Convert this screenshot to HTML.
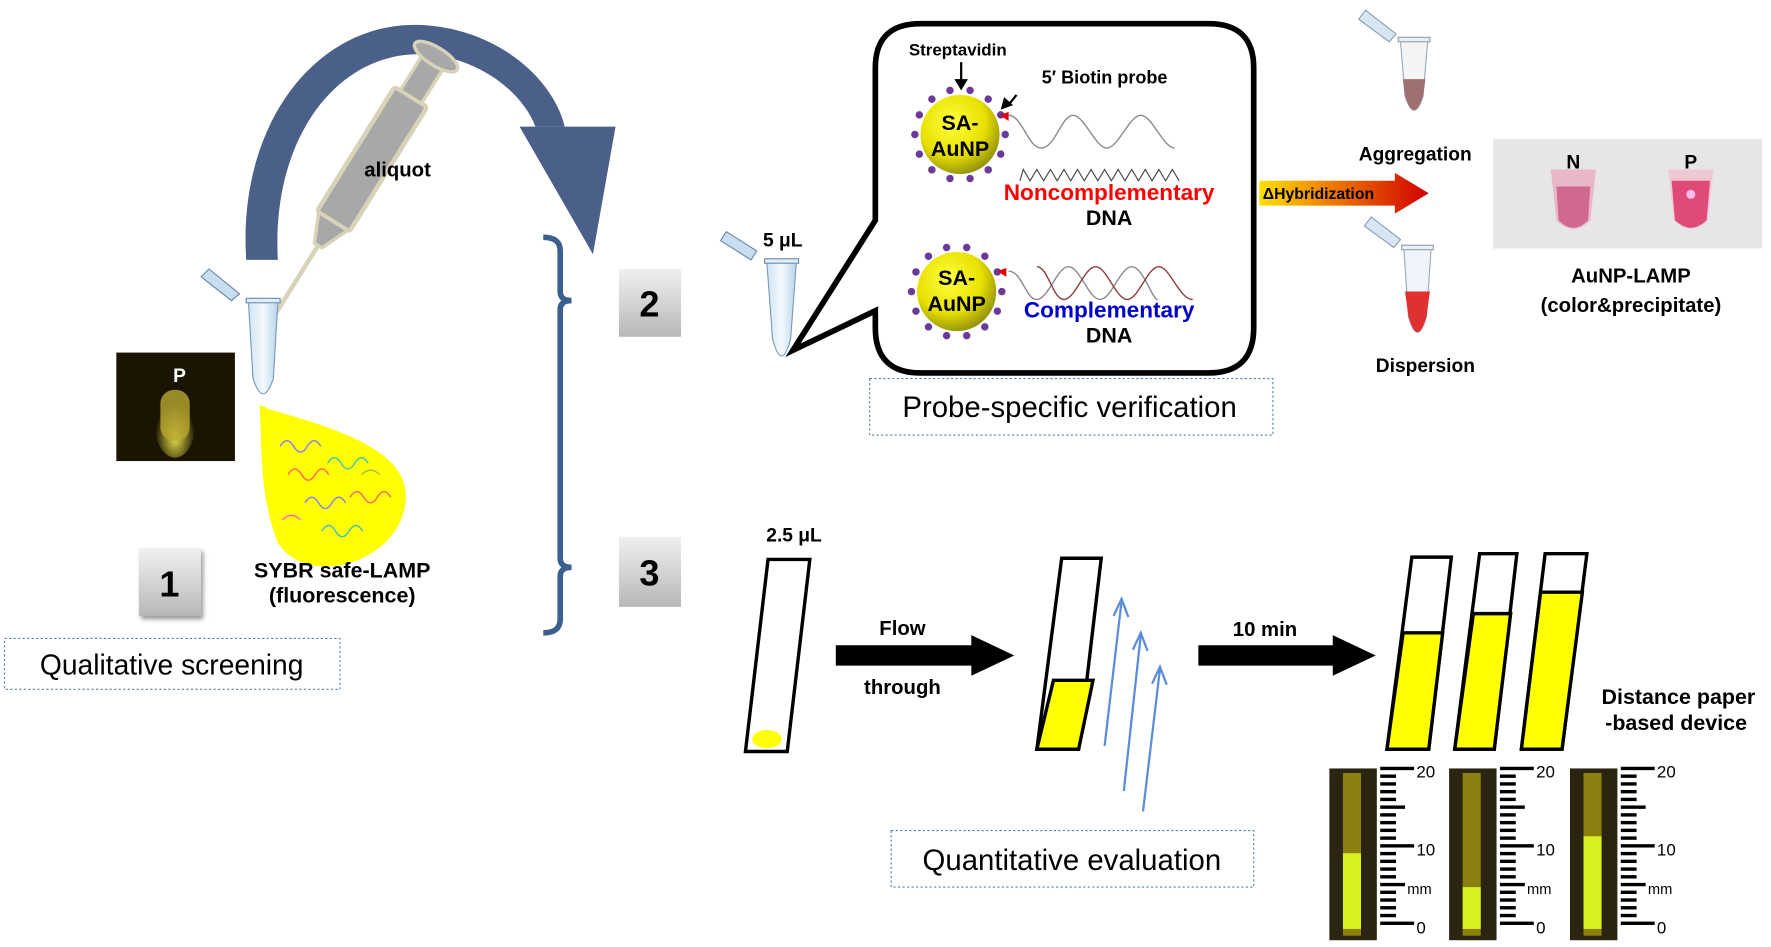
<!DOCTYPE html>
<html><head><meta charset="utf-8"><style>
html,body{margin:0;padding:0;background:#fff;width:1771px;height:947px;overflow:hidden}
svg{display:block}
text{font-family:"Liberation Sans",sans-serif}
.b{font-weight:bold}
</style></head><body>
<svg id="s" width="1771" height="947" viewBox="0 0 1568 838" preserveAspectRatio="none" xmlns="http://www.w3.org/2000/svg">
<defs>
<radialGradient id="np" cx="0.4" cy="0.35" r="0.7"><stop offset="0" stop-color="#ffff40"/><stop offset="0.6" stop-color="#e8e000"/><stop offset="1" stop-color="#8a8a10"/></radialGradient>
<linearGradient id="hy" x1="0" x2="1"><stop offset="0" stop-color="#ffe000"/><stop offset="0.4" stop-color="#f08000"/><stop offset="1" stop-color="#d00000"/></linearGradient>
<linearGradient id="tube" x1="0" x2="1"><stop offset="0" stop-color="#cfe4f4"/><stop offset="0.5" stop-color="#f4fafe"/><stop offset="1" stop-color="#b8d4ea"/></linearGradient>
<radialGradient id="glow" cx="0.5" cy="0.7" r="0.5"><stop offset="0" stop-color="#e8e050"/><stop offset="1" stop-color="#1a1400"/></radialGradient>
<linearGradient id="gb" x1="0" x2="0" y1="0" y2="1"><stop offset="0" stop-color="#f0f0f0"/><stop offset="1" stop-color="#b8b8b8"/></linearGradient>
</defs>
<!-- big curved arrow -->
<path d="M218,230 C210,110 280,20 370,22 C440,24 490,70 500,112 L474,112 C462,80 420,48 370,48 C300,48 240,120 246,230 Z" fill="#4b6088"/>
<polygon points="460,112 545,112 525,225" fill="#4b6088"/>
<!-- syringe -->
<g transform="rotate(32 310 170)">
<rect x="294" y="70" width="34" height="130" rx="3" fill="#a8a8a8" stroke="#d8d2b8" stroke-width="4"/>
<rect x="300" y="30" width="22" height="40" fill="#a8a8a8" stroke="#d8d2b8" stroke-width="3"/>
<ellipse cx="311" cy="28" rx="22" ry="8" fill="#a8a8a8" stroke="#d8d2b8" stroke-width="3"/>
<polygon points="296,200 326,200 315,225 307,225" fill="#a8a8a8" stroke="#d8d2b8" stroke-width="3"/>
<line x1="311" y1="225" x2="311" y2="310" stroke="#d8d2b8" stroke-width="4"/>
</g>
<text x="352" y="156" class="b" font-size="18" text-anchor="middle">aliquot</text>
<!-- tube 1 -->
<polygon points="178,245 185,238 212,260 205,266" fill="#c8ddef" stroke="#6a8aa8"/>
<rect x="218" y="264" width="30" height="4" fill="#e0eef8" stroke="#6a8aa8"/>
<path d="M220,268 L246,268 L242,335 Q233,362 224,335 Z" fill="url(#tube)" stroke="#7a9ab8"/>
<!-- yellow cone -->
<path d="M230,358 L238,362 C300,380 370,400 358,450 C348,500 270,520 246,480 C230,440 232,400 230,358 Z" fill="#ffff00"/>
<g stroke-width="1.2" fill="none">
<path d="M248,395 q6,-10 12,0 t12,0 t12,0" stroke="#8080ff"/><path d="M255,420 q6,-10 12,0 t12,0 t12,0" stroke="#ff6060"/>
<path d="M290,410 q6,-10 12,0 t12,0 t12,0" stroke="#40c0c0"/><path d="M270,445 q6,-10 12,0 t12,0 t12,0" stroke="#8080ff"/>
<path d="M310,440 q6,-10 12,0 t12,0 t12,0" stroke="#ff6060"/><path d="M285,470 q6,-10 12,0 t12,0 t12,0" stroke="#40c0c0"/>
<path d="M320,420 q8,-8 16,0" stroke="#a0c040"/><path d="M250,460 q8,-8 16,0" stroke="#ff60c0"/>
</g>
<!-- photo P -->
<rect x="103" y="312" width="105" height="96" fill="#1a1400"/>
<ellipse cx="155" cy="375" rx="18" ry="30" fill="url(#glow)"/>
<rect x="142" y="345" width="26" height="45" rx="12" fill="#b8a830" opacity="0.8"/>
<text x="159" y="338" class="b" font-size="17" fill="#fff" text-anchor="middle">P</text>
<!-- number boxes -->
<rect x="123" y="485" width="55" height="60" fill="url(#gb)" filter="drop-shadow(2px 3px 2px #999)"/>
<text x="150" y="528" class="b" font-size="32" text-anchor="middle">1</text>
<rect x="548" y="238" width="55" height="60" fill="url(#gb)"/>
<text x="575" y="280" class="b" font-size="32" text-anchor="middle">2</text>
<rect x="548" y="475" width="55" height="62" fill="url(#gb)"/>
<text x="575" y="518" class="b" font-size="32" text-anchor="middle">3</text>
<text x="303" y="511" class="b" font-size="19" text-anchor="middle">SYBR safe-LAMP</text>
<text x="303" y="533" class="b" font-size="19" text-anchor="middle">(fluorescence)</text>
<rect x="4" y="565" width="297" height="45" fill="none" stroke="#6080b0" stroke-dasharray="2,2"/>
<text x="152" y="597" font-size="25" text-anchor="middle">Qualitative screening</text>
<!-- bracket -->
<path d="M481,210 Q496,210 496,222 L496,258 Q496,266 506,266 Q496,266 496,274 L496,494 Q496,502 506,502 Q496,502 496,510 L496,548 Q496,560 481,560" fill="none" stroke="#3b5f8f" stroke-width="5"/>
<!-- tube 2 -->
<polygon points="638,213 643,205 670,222 665,230" fill="#c8ddef" stroke="#6a8aa8"/>
<rect x="677" y="229" width="30" height="4" fill="#e0eef8" stroke="#6a8aa8"/>
<path d="M679,233 L705,233 L700,300 Q692,330 684,300 Z" fill="url(#tube)" stroke="#7a9ab8"/>
<text x="693" y="218" class="b" font-size="17" text-anchor="middle">5 μL</text>
<!-- callout -->
<path d="M815,21 L1070,21 Q1110,21 1110,60 L1110,290 Q1110,330 1070,330 L815,330 Q775,330 775,290 L775,275 L702,310 L775,195 L775,60 Q775,21 815,21 Z" fill="#fff" stroke="#000" stroke-width="5"/>
<text x="848" y="49" class="b" font-size="15" text-anchor="middle">Streptavidin</text>
<line x1="851" y1="55" x2="851" y2="72" stroke="#000" stroke-width="2"/><polygon points="845,70 857,70 851,80" fill="#000"/>
<text x="978" y="74" class="b" font-size="16" text-anchor="middle">5′ Biotin probe</text>
<line x1="900" y1="84" x2="892" y2="94" stroke="#000" stroke-width="2"/><polygon points="886,97 889,86 897,93" fill="#000"/>
<circle cx="850" cy="119" r="35" fill="url(#np)"/>
<circle cx="847" cy="258" r="35" fill="url(#np)"/>
<text x="850" y="115" class="b" font-size="19" text-anchor="middle">SA-</text>
<text x="850" y="138" class="b" font-size="19" text-anchor="middle">AuNP</text>
<text x="847" y="252" class="b" font-size="19" text-anchor="middle">SA-</text>
<text x="847" y="275" class="b" font-size="19" text-anchor="middle">AuNP</text>
<g id="dots" fill="#6a3a9a"></g>
<polygon points="885,102 893,99 893,107" fill="#e00000"/>
<polygon points="883,240 891,237 891,245" fill="#e00000"/>
<path d="M893,102 C905,102 910,131 922,131 S940,102 950,102 S970,131 980,131 S1000,102 1010,102 S1030,131 1040,131" fill="none" stroke="#888" stroke-width="1.2"/>
<path id="zz" d="" fill="none" stroke="#444" stroke-width="1"/>
<path d="M893,240 C905,240 908,265 918,265 S936,236 946,236 S964,265 974,265 S992,236 1002,236 S1020,265 1025,265" fill="none" stroke="#888" stroke-width="1.2"/>
<path d="M918,236 C928,236 932,265 942,265 S960,236 970,236 S988,265 998,265 S1016,236 1026,236 S1044,265 1056,265" fill="none" stroke="#8a3a3a" stroke-width="1.2"/>
<text x="982" y="177" class="b" font-size="20" fill="#ff0000" text-anchor="middle">Noncomplementary</text>
<text x="982" y="199" class="b" font-size="19" text-anchor="middle">DNA</text>
<text x="982" y="281" class="b" font-size="20" fill="#0000cc" text-anchor="middle">Complementary</text>
<text x="982" y="303" class="b" font-size="19" text-anchor="middle">DNA</text>
<rect x="770" y="335" width="357" height="50" fill="none" stroke="#6080b0" stroke-dasharray="2,2"/>
<text x="947" y="369" font-size="26" text-anchor="middle">Probe-specific verification</text>
<!-- hybridization arrow -->
<polygon points="1115,160 1235,160 1235,153 1265,171 1235,189 1235,182 1115,182" fill="url(#hy)"/>
<text x="1118" y="176" class="b" font-size="14">ΔHybridization</text>
<!-- tubes right -->
<polygon points="1203,17 1209,9 1236,30 1230,37" fill="#d8e6f2" stroke="#8aa0b8"/>
<rect x="1238" y="33" width="28" height="4" fill="#eee" stroke="#8aa0b8"/>
<path d="M1240,37 L1264,37 L1260,85 Q1252,110 1244,85 Z" fill="#f4f4f4" stroke="#9ab"/>
<path d="M1242,70 L1262,70 L1260,85 Q1252,110 1244,85 Z" fill="#a07070"/>
<text x="1253" y="142" class="b" font-size="17" text-anchor="middle">Aggregation</text>
<polygon points="1208,200 1214,192 1240,212 1234,219" fill="#d8e6f2" stroke="#8aa0b8"/>
<rect x="1241" y="217" width="28" height="4" fill="#eee" stroke="#8aa0b8"/>
<path d="M1243,221 L1267,221 L1263,280 Q1255,308 1247,280 Z" fill="#eef4fa" stroke="#9ab"/>
<path d="M1244,258 L1266,258 L1263,280 Q1255,308 1247,280 Z" fill="#e03030"/>
<text x="1262" y="329" class="b" font-size="17" text-anchor="middle">Dispersion</text>
<rect x="1322" y="123" width="238" height="97" fill="#e6e6e8"/>
<path d="M1373,150 L1413,150 L1408,195 Q1393,210 1378,195 Z" fill="#e8b8c8"/>
<path d="M1378,165 L1408,165 L1406,195 Q1393,208 1380,195 Z" fill="#d06890"/>
<path d="M1477,150 L1517,150 L1512,195 Q1497,210 1482,195 Z" fill="#f0c8d4"/>
<path d="M1480,160 L1514,160 L1511,195 Q1497,208 1483,195 Z" fill="#e04a78"/>
<circle cx="1497" cy="172" r="4" fill="#fbe"/>
<text x="1393" y="149" class="b" font-size="17" text-anchor="middle">N</text>
<text x="1497" y="149" class="b" font-size="17" text-anchor="middle">P</text>
<text x="1444" y="250" class="b" font-size="18" text-anchor="middle">AuNP-LAMP</text>
<text x="1444" y="276" class="b" font-size="18" text-anchor="middle">(color&amp;precipitate)</text>
<!-- strips -->
<text x="703" y="479" class="b" font-size="17" text-anchor="middle">2.5 μL</text>
<polygon points="680,495 717,495 697,665 660,665" fill="#fff" stroke="#000" stroke-width="3"/>
<ellipse cx="679" cy="654" rx="13" ry="8" fill="#ffff00"/>
<polygon points="740,571 860,571 860,562 898,580 860,598 860,589 740,589" fill="#000"/>
<text x="799" y="562" class="b" font-size="18" text-anchor="middle">Flow</text>
<text x="799" y="614" class="b" font-size="18" text-anchor="middle">through</text>
<polygon points="940,494 975,494 955,663 918,663" fill="#fff" stroke="#000" stroke-width="3"/>
<polygon points="932.7,602 967.7,602 955,663 918,663" fill="#ffff00" stroke="#000" stroke-width="3"/>
<g stroke="#5b8ed6" stroke-width="2" fill="none">
<line x1="978" y1="660" x2="993" y2="532"/><polyline points="986,545 993,530 999,546"/>
<line x1="995" y1="700" x2="1010" y2="562"/><polyline points="1003,575 1010,560 1016,576"/>
<line x1="1012" y1="718" x2="1027" y2="592"/><polyline points="1020,605 1027,590 1033,606"/>
</g>
<polygon points="1061,571 1180,571 1180,562 1218,580 1180,598 1180,589 1061,589" fill="#000"/>
<text x="1120" y="563" class="b" font-size="18" text-anchor="middle">10  min</text>
<polygon points="1250,493 1285,493 1265,663 1228,663" fill="#fff" stroke="#000" stroke-width="3"/>
<polygon points="1242.3,560 1277.3,560 1265,663 1228,663" fill="#ffff00" stroke="#000" stroke-width="3"/>
<polygon points="1310,490 1343,490 1323,663 1288,663" fill="#fff" stroke="#000" stroke-width="3"/>
<polygon points="1304.5,543 1337.5,543 1323,663 1288,663" fill="#ffff00" stroke="#000" stroke-width="3"/>
<polygon points="1368,490 1405,490 1383,663 1347,663" fill="#fff" stroke="#000" stroke-width="3"/>
<polygon points="1364,524 1401,524 1383,663 1347,663" fill="#ffff00" stroke="#000" stroke-width="3"/>
<text x="1486" y="623" class="b" font-size="19" text-anchor="middle">Distance paper</text>
<text x="1484" y="646" class="b" font-size="19" text-anchor="middle">-based device</text>
<g id="rul"></g>
<rect x="789" y="735" width="321" height="50" fill="none" stroke="#6080b0" stroke-dasharray="2,2"/>
<text x="949" y="770" font-size="26" text-anchor="middle">Quantitative evaluation</text>
</svg>
<script>
var NS="http://www.w3.org/2000/svg";
function el(p,t,a){var e=document.createElementNS(NS,t);for(var k in a)e.setAttribute(k,a[k]);p.appendChild(e);return e;}
var d=document.getElementById("dots");
[[850,119],[847,258]].forEach(function(c){for(var i=0;i<14;i++){var a=i/14*2*Math.PI;el(d,"circle",{cx:c[0]+40*Math.cos(a),cy:c[1]+40*Math.sin(a),r:3.3});}});
var z="M903,160";for(var i=0;i<24;i++){z+=" L"+(906+i*6)+","+(i%2?160:150);}document.getElementById("zz").setAttribute("d",z);
var r=document.getElementById("rul");
var xs=[1177,1283,1390];
xs.forEach(function(x,j){
el(r,"rect",{x:x,y:680,width:42,height:152,fill:"#2a2410"});
el(r,"rect",{x:x+12,y:684,width:16,height:144,fill:"#8a8010"});
var g=[755,785,740][j];
el(r,"rect",{x:x+12,y:g,width:16,height:828-g-6,fill:"#d8f020"});
var rx=x+45;
for(var k=0;k<=20;k++){var y=817-k*6.85;var L=(k%10==0)?30:(k%5==0?22:14);
el(r,"rect",{x:rx,y:y-1.5,width:L,height:3,fill:"#000"});}
[["20",682],["10",751],["0",820]].forEach(function(t){var e=el(r,"text",{x:rx+32,y:t[1]+6,"font-size":15,"font-family":"Liberation Serif"});e.textContent=t[0];});
var m=el(r,"text",{x:rx+24,y:791,"font-size":13,"font-family":"Liberation Serif"});m.textContent="mm";
});
</script>
</body></html>
